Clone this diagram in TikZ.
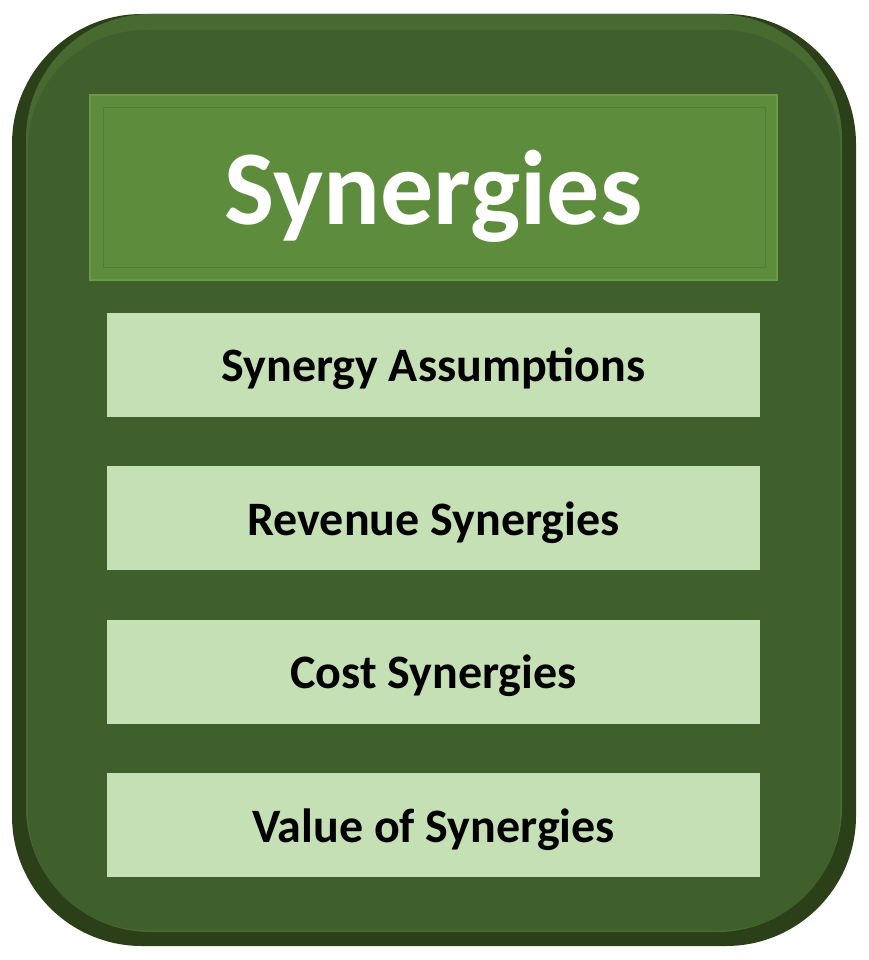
\documentclass[tikz,border=0pt]{standalone}
\usepackage{fontspec}
\setmainfont{Carlito}
\usetikzlibrary{positioning}
\definecolor{frameDark}{HTML}{2B4019}
\definecolor{frameMid}{HTML}{3F5F2C}
\definecolor{frameTop}{HTML}{476A31}
\definecolor{titleGreen}{HTML}{5D8C3C}
\definecolor{titleEdge}{HTML}{6A9A48}
\definecolor{itemGreen}{HTML}{C5E0B4}

\begin{document}
\begin{tikzpicture}[x=1pt,y=-1pt,node distance=49pt,
    titlebox/.style={fill=titleGreen,draw=titleEdge,line width=2pt,minimum width=687pt,minimum height=185pt,inner sep=0pt,text depth=0pt,text=white,font=\fontsize{106}{110}\selectfont\bfseries},
    itembox/.style={fill=itemGreen,minimum width=653pt,minimum height=104pt,inner sep=0pt,text depth=0pt,font=\fontsize{48}{52}\selectfont\bfseries}]
    \useasboundingbox (0,0) rectangle (868,960);
    % outer frame
    \fill[frameDark,rounded corners=130pt] (12,14) rectangle (856,946);
    \fill[frameTop,rounded corners=125pt] (26,14) rectangle (842,932);
    \fill[frameMid,rounded corners=118pt] (28,30) rectangle (840,930);
    % title
    \node[titlebox] (Title) at (433.5,187.5) {Synergies};
    \draw[titleEdge!80!black,line width=1pt] (103,108) rectangle (765,267);
    % items
    \node[itembox] (Assume) at (433.5,365) {Synergy Assumptions};
    \node[itembox,below=of Assume] (Revenue) {Revenue Synergies};
    \node[itembox,below=of Revenue] (Cost) {Cost Synergies};
    \node[itembox,below=of Cost] (Value) {Value of Synergies};
\end{tikzpicture}
\end{document}
